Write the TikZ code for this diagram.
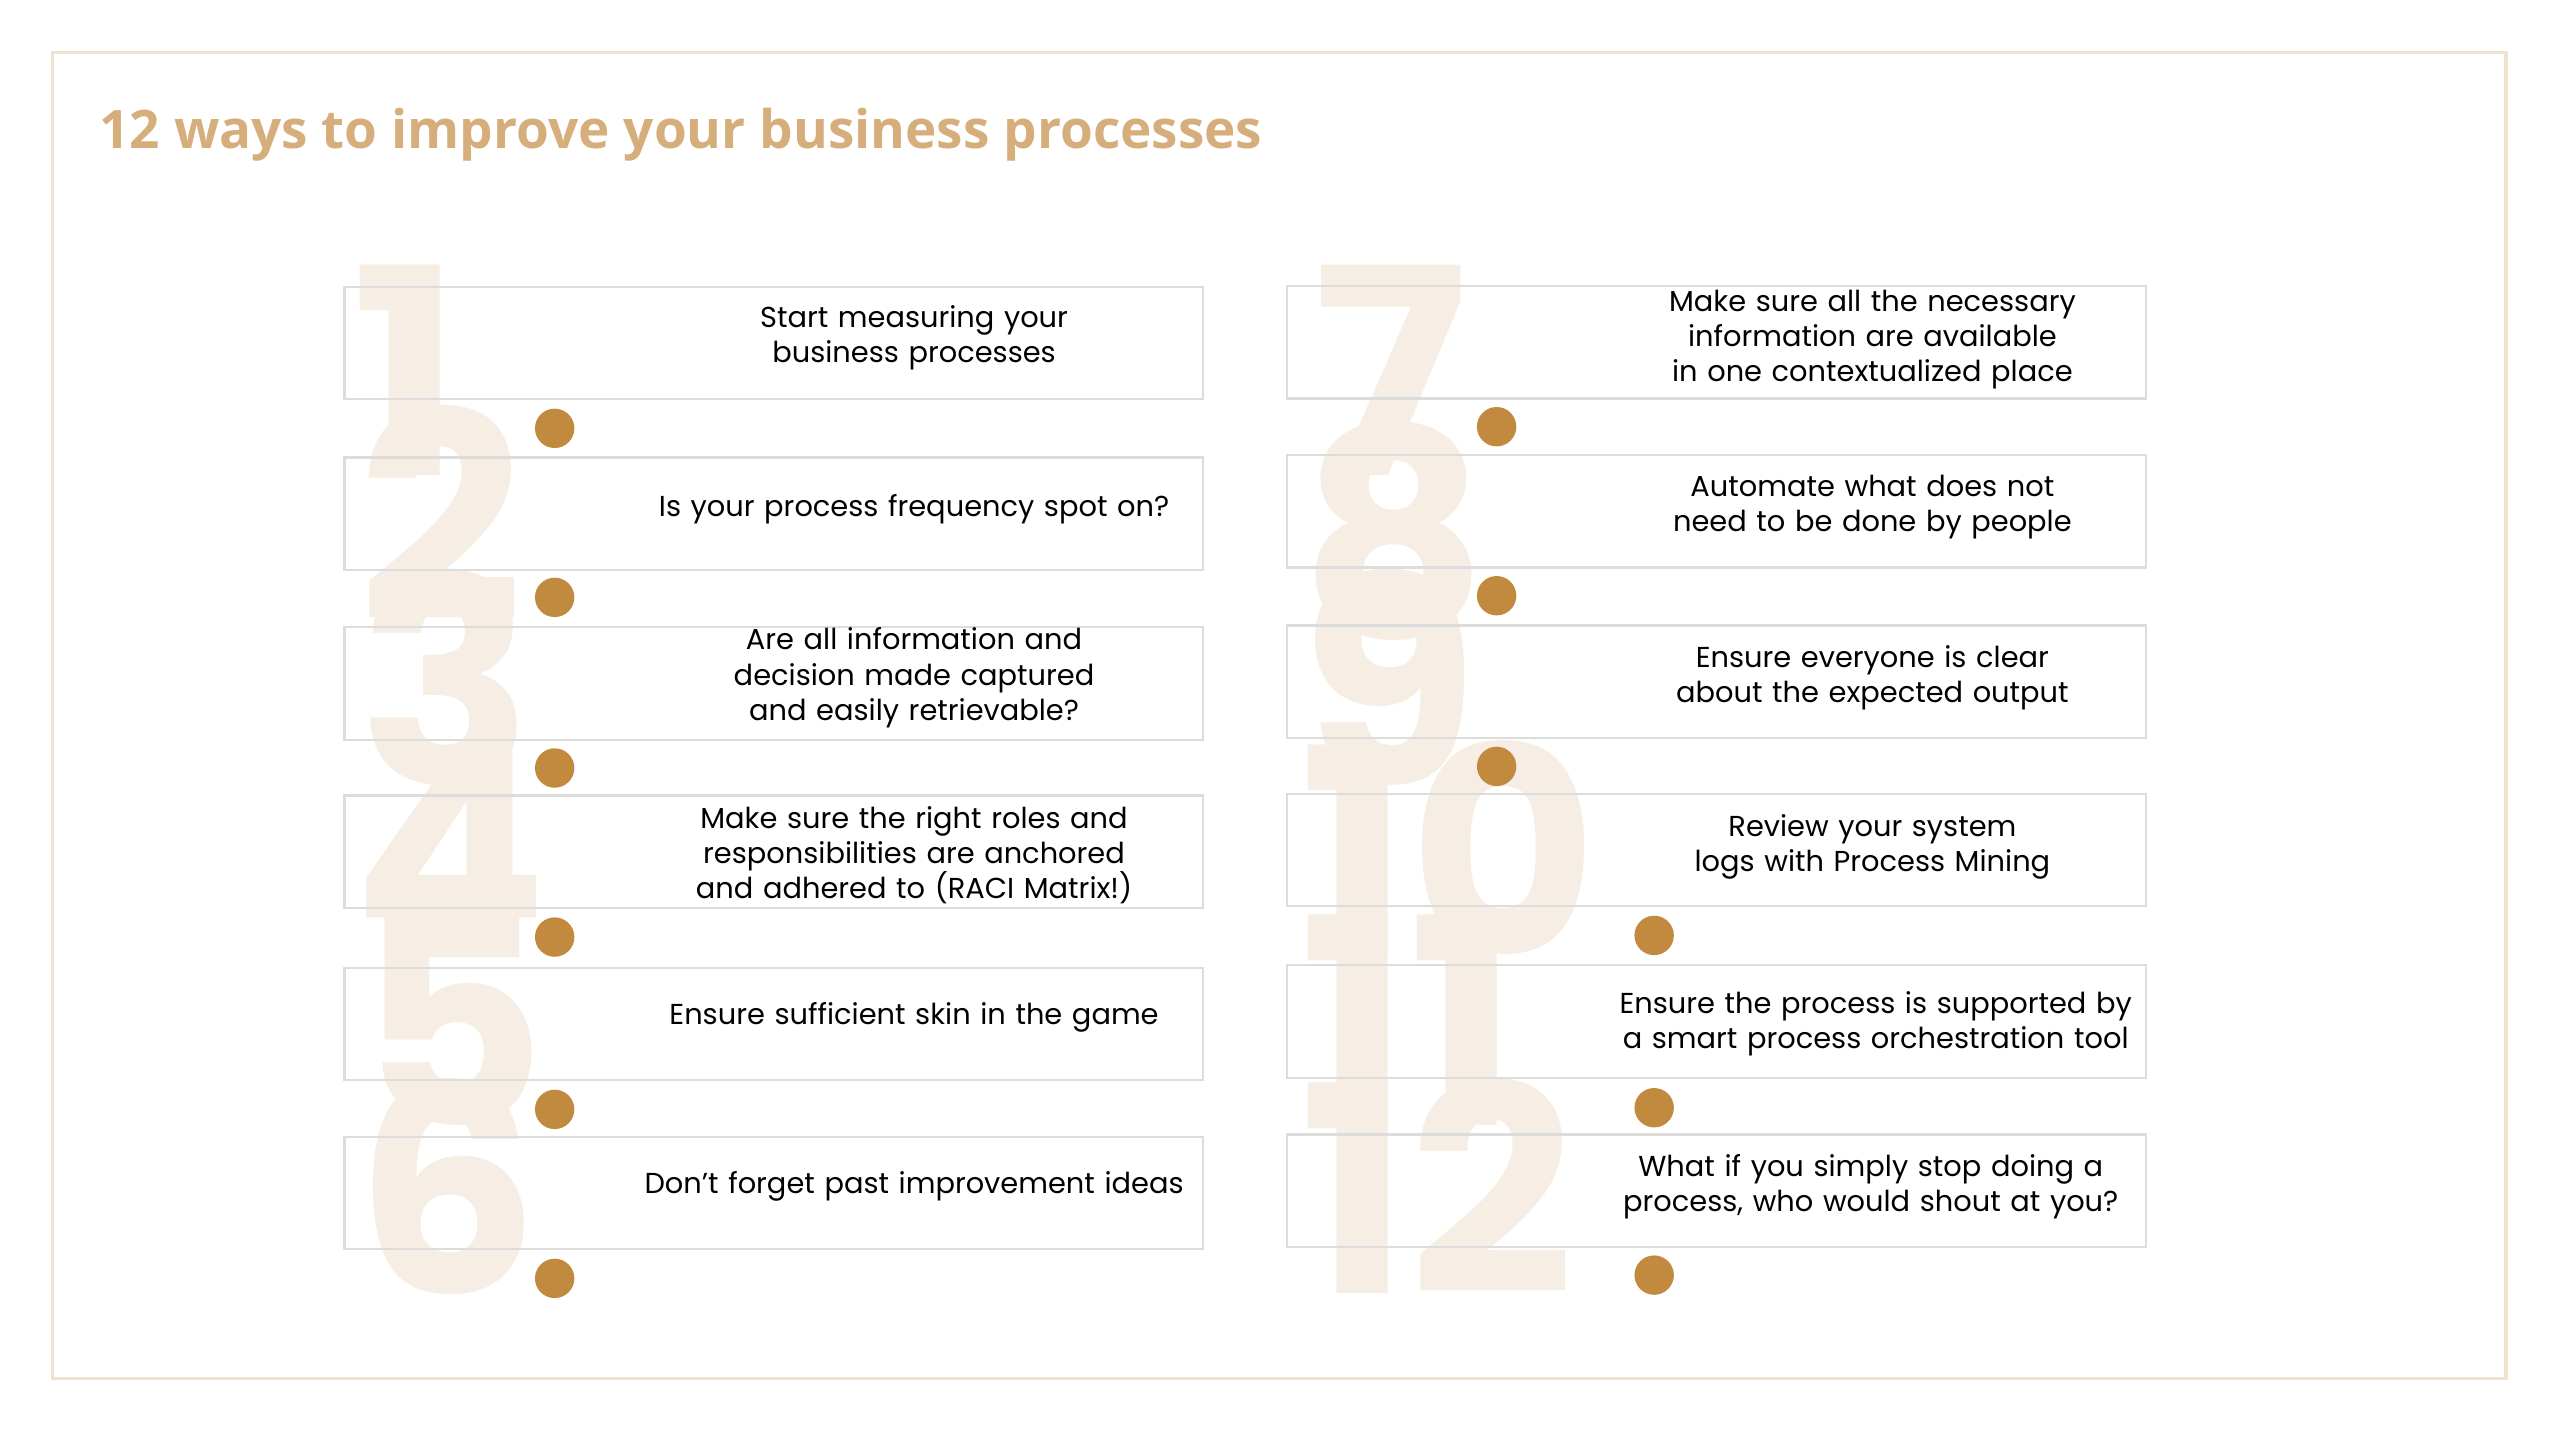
\documentclass[tikz,border=0pt]{standalone}
\usepackage{fontspec}
\setmainfont{Poppins}
\newfontfamily\titlefont{Open Sans}
\definecolor{framec}{HTML}{EFE3D0}
\definecolor{titlec}{HTML}{D6AE7B}
\definecolor{digitc}{HTML}{F6EEE4}
\definecolor{dotc}{HTML}{C28A3E}
\definecolor{boxc}{HTML}{DCDCDC}
\hyphenpenalty=10000
\exhyphenpenalty=10000
\begin{document}
\begin{tikzpicture}[x=0.01cm,y=-0.01cm,
  digit/.style={anchor=base west,inner sep=0,text=digitc,font=\bfseries\fontsize{50}{50}\selectfont},
  itembox/.style={draw=boxc,line width=0.4pt,minimum width=5.23cm,minimum height=0.685cm,inner sep=0},
  itemtext/.style={align=center,text width=3.35cm,font=\fontsize{5.0}{6.1}\selectfont,inner sep=0},
  dotn/.style={circle,fill=dotc,minimum size=0.24cm,inner sep=0}]
\useasboundingbox (0,0) rectangle (1560,877.5);
\draw[framec,line width=0.6pt] (32,32) rectangle (1527,840);
\node[anchor=west,inner sep=0,text=titlec,font=\titlefont\bfseries\fontsize{9.2}{11}\selectfont] (title) at (60,82) {12 ways to improve your business processes};
% digits
\node[digit] (d1) at (214,290) {1};
\node[digit] (d2) at (218,378) {2};
\node[digit] (d3) at (218,478) {3};
\node[digit] (d4) at (214,582) {4};
\node[digit] (d5) at (218,686) {5};
\node[digit] (d6) at (216,788) {6};
\node[digit] (d7) at (800,290) {7};
\node[digit] (d8) at (792,388) {8};
\node[digit] (d9) at (792,478) {9};
\node[digit] (d10) at (792,582) {10};
\node[digit] (d11) at (792,686) {11};
\node[digit] (d12) at (792,788) {12};
% boxes
\foreach \n/\y in {1/209,2/313,3/416.5,4/519,5/624,6/727}{
  \node[itembox] (b\n) at (471.5,\y) {};}
\foreach \n/\y in {7/208.5,8/311.5,9/415.5,10/518,11/622.5,12/725.5}{
  \node[itembox] (b\n) at (1046,\y) {};}
\node[itemtext] (t1) at (557,206) {Start measuring your business processes};
\node[itemtext] (t2) at (557,310) {Is your process frequency spot on?};
\node[itemtext] (t3) at (557,413) {Are all information and decision made captured and easily retrievable?};
\node[itemtext] (t4) at (557,521) {Make sure the right roles and responsibilities are anchored and adhered to (RACI Matrix!)};
\node[itemtext] (t5) at (557,620) {Ensure sufficient skin in the game};
\node[itemtext] (t6) at (557,723) {Don’t forget past improvement ideas};
\node[itemtext] (t7) at (1141,207) {Make sure all the necessary information are available in one contextualized place};
\node[itemtext] (t8) at (1141,309) {Automate what does not need to be done by people};
\node[itemtext] (t9) at (1141,413) {Ensure everyone is clear about the expected output};
\node[itemtext] (t10) at (1141,516) {Review your system logs with Process Mining};
\node[itemtext] (t11) at (1143,624) {Ensure the process is supported by a smart process orchestration tool};
\node[itemtext] (t12) at (1140,723) {What if you simply stop doing a process, who would shout at you?};
% dots
\foreach \n/\y in {1/261,2/364,3/468,4/571,5/676,6/779}{
  \node[dotn] (p\n) at (338,\y) {};}
\foreach \n/\x/\y in {7/912/260,8/912/363,9/912/467,10/1008/570,11/1008/675,12/1008/777}{
  \node[dotn] (p\n) at (\x,\y) {};}
\end{tikzpicture}
\end{document}
